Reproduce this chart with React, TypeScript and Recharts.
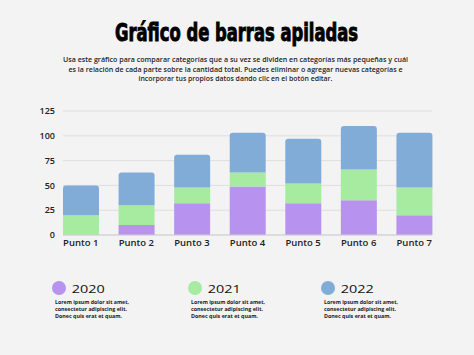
import { BarChart, Bar, XAxis, YAxis, CartesianGrid } from 'recharts';

const categories = ['Punto 1', 'Punto 2', 'Punto 3', 'Punto 4', 'Punto 5', 'Punto 6', 'Punto 7'];
const values2020 = [0, 10, 32, 49, 32, 35, 20];
const values2021 = [20, 20, 16, 14, 20, 31, 28];
const values2022 = [30, 33, 33, 40, 45, 44, 55];
const yTicks = [0, 25, 50, 75, 100, 125];

const seriesKeys = ['y2020', 'y2021', 'y2022'];
const seriesNames = ['2020', '2021', '2022'];
const seriesColors = ['#b793ef', '#a7eba1', '#82acd8'];

const title = 'Gráfico de barras apiladas';
const subtitleLines = [
  'Usa este gráfico para comparar categorías que a su vez se dividen en categorías más pequeñas y cuál',
  'es la relación de cada parte sobre la cantidad total. Puedes eliminar o agregar nuevas categorías e',
  'incorporar tus propios datos dando clic en el botón editar.',
];
const subtitleWidths = [345, 334, 194];
const loremLines = ['Lorem ipsum dolor sit amet,', 'consectetur adipiscing elit.', 'Donec quis erat et quam.'];
const loremWidths = [74, 72, 67];

const data = categories.map((name, i) => ({
  name,
  y2020: values2020[i],
  y2021: values2021[i],
  y2022: values2022[i],
}));

const uiFont = "'Open Sans', 'Noto Sans', sans-serif";
const legendX = [59, 195, 328];

export default function App() {
  return (
    <div style={{ position: 'fixed', left: 0, top: 0, width: 474, height: 355, background: '#f3f3f3', overflow: 'hidden' }}>
      <svg width={474} height={355} style={{ position: 'absolute', left: 0, top: 0 }}>
        <text
          x={236.5}
          y={41}
          textAnchor="middle"
          fontSize={24}
          fontWeight={700}
          fontFamily="'Liberation Sans Narrow', 'DejaVu Sans Condensed', 'Roboto Condensed', sans-serif"
          fill="#000"
          stroke="#000"
          strokeWidth={0.9}
          textLength={243}
          lengthAdjust="spacingAndGlyphs"
        >
          {title}
        </text>
        {subtitleLines.map((line, i) => (
          <text
            key={i}
            x={235.5}
            y={62 + i * 9.6}
            textAnchor="middle"
            fontSize={7.8}
            fontWeight={600}
            fontFamily={uiFont}
            fill="#1e1e1e"
            textLength={subtitleWidths[i]}
            lengthAdjust="spacingAndGlyphs"
          >
            {line}
          </text>
        ))}
        {seriesNames.map((name, s) => (
          <g key={name}>
            <circle cx={legendX[s]} cy={288} r={7} fill={seriesColors[s]} />
            <text
              x={legendX[s] + 12.7}
              y={292.7}
              fontSize={11.5}
              fontWeight={500}
              fontFamily={uiFont}
              fill="#111"
              textLength={33}
              lengthAdjust="spacingAndGlyphs"
            >
              {name}
            </text>
            {loremLines.map((line, i) => (
              <text
                key={i}
                x={legendX[s] - 4}
                y={303.9 + i * 7}
                fontSize={6}
                fontWeight={700}
                fontFamily={uiFont}
                fill="#222"
                textLength={loremWidths[i]}
                lengthAdjust="spacingAndGlyphs"
              >
                {line}
              </text>
            ))}
          </g>
        ))}
      </svg>
      <div style={{ position: 'absolute', left: 0, top: 95 }}>
        <BarChart width={474} height={165} data={data} margin={{ top: 16, right: 42, bottom: 0, left: 0 }}>
          <CartesianGrid vertical={false} stroke="#dedede" />
          <XAxis
            dataKey="name"
            height={25}
            padding={{ left: -10, right: -10 }}
            tickLine={false}
            tickSize={0}
            tickMargin={4}
            axisLine={{ stroke: '#cfcfcf' }}
            tick={{ fontSize: 9.5, fontWeight: 600, fill: '#222', fontFamily: uiFont }}
          />
          <YAxis
            width={63}
            domain={[0, 125]}
            ticks={yTicks}
            axisLine={false}
            tickLine={false}
            tick={{ fontSize: 9, fontWeight: 600, fill: '#222', fontFamily: uiFont }}
          />
          {seriesKeys.map((key, s) => (
            <Bar
              key={key}
              dataKey={key}
              name={seriesNames[s]}
              stackId="a"
              fill={seriesColors[s]}
              barSize={36}
              radius={s === seriesKeys.length - 1 ? [3, 3, 0, 0] : 0}
              isAnimationActive={false}
            />
          ))}
        </BarChart>
      </div>
    </div>
  );
}
